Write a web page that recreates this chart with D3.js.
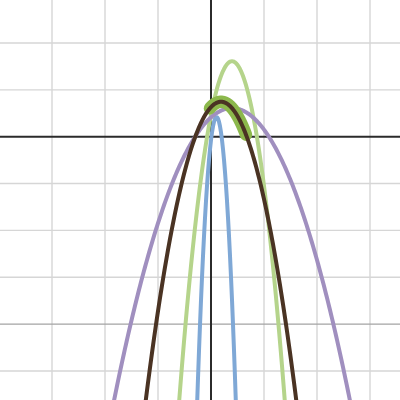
<!DOCTYPE html>
<html lang="en">
<head>
	<meta charset="utf-8">
	<title>parabolas</title>
	<script src="https://d3js.org/d3.v7.min.js"></script>
	<style>
		body{ margin:0; background:#fff; }
	</style>
</head>
<body>
<div id="chart"></div>
<script>
// grid ticks
let xTicks=[-3,-2,-1,1,2,3];
let yTicks=[-5,-3,-2,-1,1,2];
let yMajor=[-4];

// parabolas y = -a*(x-h)^2 + k
let names =["blue","green","purple","brown"];
let colors=["#7fa8d6","#b5d48b","#a08fbf","#4a3323"];
let h=[0.104,0.396,0.396,0.189];
let k=[0.42,1.61,0.61,0.745];
let a=[45.7,7.3,1.26,3.16];

// highlighted piece of the brown curve
let hlFrom=-0.02, hlTo=0.66;

let W=400,H=400;
let x=d3.scaleLinear().domain([-3.981,3.566]).range([0,W]);
let y=d3.scaleLinear().domain([2.917,-5.619]).range([0,H]);

let svg=d3.select("#chart").append("svg")
	.attr("width",W).attr("height",H);

// minor grid
svg.selectAll(".gx").data(xTicks).enter().append("line")
	.attr("x1",d=>x(d)).attr("x2",d=>x(d)).attr("y1",0).attr("y2",H)
	.attr("stroke","#d6d6d6").attr("stroke-width",1.4);
svg.selectAll(".gy").data(yTicks).enter().append("line")
	.attr("y1",d=>y(d)).attr("y2",d=>y(d)).attr("x1",0).attr("x2",W)
	.attr("stroke","#d6d6d6").attr("stroke-width",1.4);
svg.selectAll(".gm").data(yMajor).enter().append("line")
	.attr("y1",d=>y(d)).attr("y2",d=>y(d)).attr("x1",0).attr("x2",W)
	.attr("stroke","#a3a3a3").attr("stroke-width",1.4);

// axes
svg.append("line").attr("x1",x(0)).attr("x2",x(0)).attr("y1",0).attr("y2",H)
	.attr("stroke","#2b2b2b").attr("stroke-width",2);
svg.append("line").attr("y1",y(0)).attr("y2",y(0)).attr("x1",0).attr("x2",W)
	.attr("stroke","#2b2b2b").attr("stroke-width",2);

function curve(i,from,to){
	let pts=[];
	let n=400;
	for(let j=0;j<=n;j++){
		let xv=from+(to-from)*j/n;
		pts.push([xv,-a[i]*(xv-h[i])*(xv-h[i])+k[i]]);
	}
	return pts;
}
let line=d3.line().x(d=>x(d[0])).y(d=>y(d[1]));
let xd=x.domain();

function draw(i){
	svg.append("path").datum(curve(i,xd[0],xd[1]))
		.attr("d",line).attr("fill","none")
		.attr("stroke",colors[i]).attr("stroke-width",4)
		.attr("stroke-linejoin","round");
}
draw(0);
draw(1);
draw(2);
// highlight under the brown curve
svg.append("path").datum(curve(3,hlFrom,hlTo))
	.attr("d",line).attr("fill","none")
	.attr("stroke","#8cb84c").attr("stroke-width",12.5)
	.attr("stroke-linecap","round").attr("stroke-linejoin","round");
draw(3);
</script>
</body>
</html>
